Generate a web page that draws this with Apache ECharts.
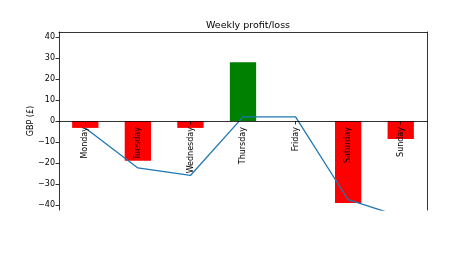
<!DOCTYPE html>
<html><head><meta charset="utf-8">
<script src="https://cdn.jsdelivr.net/npm/echarts@6/dist/echarts.min.js"></script>
<style>html,body{margin:0;padding:0;background:#fff}#c{width:474px;height:263px}</style>
</head><body><div id="c"></div>
<script>
const days = ['Monday','Tuesday','Wednesday','Thursday','Friday','Saturday','Sunday'];
const profit = [-3.3, -19, -3.3, 28, 0, -39.2, -8.6];
const running = [-3.3, -22.4, -26, 2, 2, -37.6, -45.6];
const titleText = 'Weekly profit/loss';
const yName = 'GBP (£)';

const font = 'DejaVu Sans';
const gridTop = 32, gridBottom = 53, H = 263;
const yMin = -42.5, yMax = 42.5;
const zeroOffset = (H - gridTop - gridBottom) * yMax / (yMax - yMin);
const chart = echarts.init(document.getElementById('c'), null, {renderer:'canvas'});
chart.setOption({
  animation: false,
  title: {text: titleText, left: 243, textAlign: 'center', top: 16,
    textStyle: {fontFamily: font, fontSize: 9.5, fontWeight: 'normal', color: '#000'}},
  grid: {left: 59, right: 47, top: gridTop, bottom: gridBottom, containLabel: false},
  xAxis: [{
    type: 'category', data: days, boundaryGap: true, z: 10,
    axisLine: {show: true, onZero: true, onZeroAxisIndex: 0, lineStyle: {color: '#000', width: 0.8}},
    axisTick: {show: true, alignWithLabel: true, length: 3.5, lineStyle: {color: '#000', width: 0.8}},
    axisLabel: {show: false},
    splitLine: {show: false}
  },{
    type: 'category', data: days, position: 'top', boundaryGap: true,
    axisLine: {show: true, onZero: false, lineStyle: {color: '#000', width: 0.8}},
    axisTick: {show: false}, axisLabel: {show: false}, splitLine: {show: false}
  },{
    type: 'category', data: days, position: 'top', offset: -zeroOffset, boundaryGap: true, z: 50, zlevel: 1,
    axisLine: {show: false, onZero: false}, axisTick: {show: false},
    axisLabel: {inside: true, rotate: -90, fontFamily: font, fontSize: 8, color: '#000', margin: 6, interval: 0,
      textBorderWidth: 0, backgroundColor: 'transparent'},
    splitLine: {show: false}
  }],
  yAxis: [{
    type: 'value', min: yMin, max: yMax, splitNumber: 8,
    name: yName, nameLocation: 'middle', nameGap: 24, nameMoveOverlap: false,
    nameTextStyle: {fontFamily: font, fontSize: 8, color: '#000'},
    axisLine: {show: true, onZero: false, lineStyle: {color: '#000', width: 0.8}},
    axisTick: {show: true, length: 3.5, lineStyle: {color: '#000', width: 0.8}},
    axisLabel: {fontFamily: font, fontSize: 8, color: '#000', margin: 4, showMinLabel: false, showMaxLabel: false,
      formatter: v => (Math.abs(v - Math.round(v)) > 1e-6 ? '' : (v < 0 ? '\u2212' + Math.abs(v) : String(v)))},
    splitLine: {show: false}
  },{
    type: 'value', min: yMin, max: yMax, position: 'right',
    axisLine: {show: true, onZero: false, lineStyle: {color: '#000', width: 0.8}},
    axisTick: {show: false}, axisLabel: {show: false}, splitLine: {show: false}
  }],
  series: [{
    type: 'bar', data: profit, barWidth: '50%',
    itemStyle: {color: p => p.value < 0 ? '#ff0000' : '#008000'}
  },{
    type: 'line', data: running, showSymbol: false, symbol: 'none',
    lineStyle: {color: '#1f77b4', width: 1.3}, z: 3
  }]
});
</script></body></html>
